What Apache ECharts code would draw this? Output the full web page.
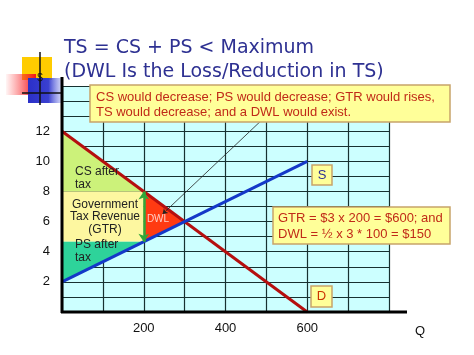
<!DOCTYPE html>
<html><head><meta charset="utf-8">
<script src="https://cdn.jsdelivr.net/npm/echarts@6/dist/echarts.min.js"></script>
<style>html,body{margin:0;padding:0;background:#fff}#c{width:474px;height:355px}</style>
</head><body><div id="c"></div>
<script>
// ---- data ----
var xTicks = [200, 400, 600];
var yTicks = [2, 4, 6, 8, 10, 12];
var demand = [[0, 12], [600, 0]];
var supply = [[0, 2], [600, 10]];
var csArea = [[0, 12], [200, 8], [0, 8]];
var gtrArea = [[0, 8], [200, 8], [200, 4.67], [0, 4.67]];
var psArea = [[0, 4.67], [200, 4.67], [0, 2]];
var dwlArea = [[200, 8], [300, 6], [200, 4.67]];
var taxArrow = [[200, 8], [200, 4.67]];
var pointer = [[495, 12.9], [246, 6.5]];

var polys = [csArea, gtrArea, psArea, dwlArea];
var polyColors = ['#ccf27a', '#fdf7a0', '#2ed39a', '#ff3a12'];

var chart = echarts.init(document.getElementById('c'));
var F = 'Liberation Sans, Arial, sans-serif';
var red = '#c02a18';

function txt(x, y, s, size, color, align, font) {
  return {type: 'text', x: x, y: y, z: 50, style: {text: s, fontSize: size, fill: color, fontFamily: font || F, textAlign: align || 'left', textVerticalAlign: 'middle'}};
}
function box(x, y, w, h) {
  return {type: 'rect', z: 40, shape: {x: x, y: y, width: w, height: h}, style: {fill: '#ffff99', stroke: '#c8a46a', lineWidth: 1.5}};
}

var option = {
  animation: false,
  backgroundColor: '#fff',
  grid: {left: 62, top: 86, width: 327, height: 226, show: true, backgroundColor: '#ccffff', borderWidth: 0},
  xAxis: {type: 'value', min: 0, max: 800, interval: 100,
    axisLine: {show: false}, axisTick: {show: false},
    splitLine: {show: true, lineStyle: {color: '#173030', width: 1.2}},
    axisLabel: {margin: 10, fontSize: 13, color: '#111', fontFamily: F,
      formatter: function (v) { return xTicks.indexOf(v) >= 0 ? String(v) : ''; }}},
  yAxis: {type: 'value', min: 0, max: 15, interval: 1,
    axisLine: {show: false}, axisTick: {show: false},
    splitLine: {show: true, lineStyle: {color: '#173030', width: 1.2}},
    axisLabel: {margin: 12, fontSize: 13, color: '#111', fontFamily: F,
      formatter: function (v) { return yTicks.indexOf(v) >= 0 ? String(v) : ''; }}},
  series: [
    {type: 'custom', z: 3, data: polys.map(function (p, i) { return [i]; }),
      renderItem: function (params, api) {
        var pts = polys[params.dataIndex].map(function (p) { return api.coord(p); });
        return {type: 'polygon', shape: {points: pts}, style: {fill: polyColors[params.dataIndex]}};
      }},
    {type: 'line', z: 5, data: demand, symbol: 'none', lineStyle: {color: '#b50f0f', width: 3}},
    {type: 'line', z: 6, data: supply, symbol: 'none', lineStyle: {color: '#1438c8', width: 3}},
    {type: 'lines', coordinateSystem: 'cartesian2d', z: 7, symbol: ['arrow', 'arrow'], symbolSize: 8,
      lineStyle: {color: '#2fa83a', width: 2.5, opacity: 1},
      data: [{coords: taxArrow}]},
    {type: 'lines', coordinateSystem: 'cartesian2d', z: 7, symbol: ['none', 'arrow'], symbolSize: 5,
      lineStyle: {color: '#222', width: 0.8, opacity: 1},
      data: [{coords: pointer}]}
  ],
  graphic: [
    // slide decoration
    {type: 'rect', z: 1, shape: {x: 22, y: 57, width: 30, height: 23}, style: {fill: '#ffcc00'}},
    {type: 'rect', z: 2, shape: {x: 6, y: 74, width: 30, height: 21},
      style: {fill: {type: 'linear', x: 0, y: 0, x2: 1, y2: 0, colorStops: [{offset: 0, color: 'rgba(255,60,60,0.05)'}, {offset: 1, color: 'rgba(240,20,30,1)'}]}}},
    {type: 'rect', z: 2, shape: {x: 28, y: 78, width: 34, height: 25},
      style: {fill: {type: 'linear', x: 0, y: 0, x2: 1, y2: 0, colorStops: [{offset: 0, color: '#2a2fc8'}, {offset: 0.6, color: '#3a40d0'}, {offset: 1, color: 'rgba(120,130,230,0.3)'}]}}},
    {type: 'line', z: 3, shape: {x1: 40, y1: 52, x2: 40, y2: 105}, style: {stroke: '#111', lineWidth: 1.5}},
    {type: 'line', z: 3, shape: {x1: 22, y1: 93, x2: 62, y2: 93}, style: {stroke: '#111', lineWidth: 1.5}},
    txt(40, 78, '$', 10, '#111', 'center'),
    // axes
    {type: 'line', z: 30, shape: {x1: 62, y1: 77, x2: 62, y2: 313}, style: {stroke: '#000', lineWidth: 3}},
    {type: 'line', z: 30, shape: {x1: 61, y1: 312, x2: 407, y2: 312}, style: {stroke: '#000', lineWidth: 3}},
    txt(420, 331, 'Q', 13, '#111', 'center'),
    // title
    txt(64, 48, 'TS = CS + PS < Maximum', 19, '#2e3192', 'left', 'DejaVu Sans, sans-serif'),
    txt(64, 72, '(DWL Is the Loss/Reduction in TS)', 19, '#2e3192', 'left', 'DejaVu Sans, sans-serif'),
    // region labels
    txt(75, 172, 'CS after', 12, '#222'),
    txt(75, 185, 'tax', 12, '#222'),
    txt(105, 205, 'Government', 12, '#222', 'center'),
    txt(105, 217, 'Tax Revenue', 12, '#222', 'center'),
    txt(105, 230, '(GTR)', 12, '#222', 'center'),
    txt(75, 245, 'PS after', 12, '#222'),
    txt(75, 258, 'tax', 12, '#222'),
    txt(158, 219, 'DWL', 10, '#ffd0c8', 'center'),
    // annotation boxes
    box(90, 85, 360, 37),
    txt(96, 97, 'CS would decrease; PS would decrease; GTR would rises,', 13, red),
    txt(96, 112, 'TS would decrease; and a DWL would exist.', 13, red),
    box(312, 165, 20, 20),
    txt(322, 175, 'S', 13, '#2e3192', 'center'),
    box(273, 207, 177, 37),
    txt(278, 218, 'GTR = $3 x 200 = $600; and', 13, red),
    txt(278, 234, 'DWL = \u00bd x 3 * 100 = $150', 13, red),
    box(311, 286, 21, 21),
    txt(321.5, 296.5, 'D', 13, '#cc3300', 'center')
  ]
};
chart.setOption(option);
</script></body></html>
